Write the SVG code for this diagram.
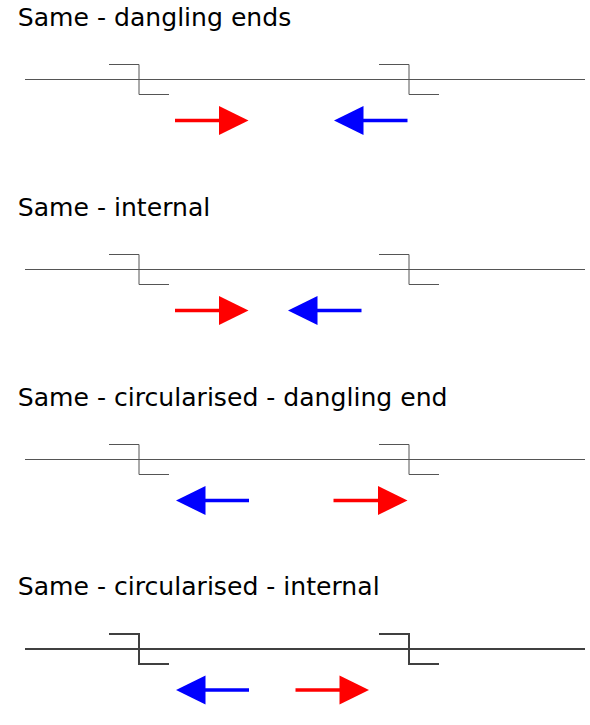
<svg xmlns="http://www.w3.org/2000/svg" width="590" height="725" viewBox="0 0 590 725">
<style>
.title{font-family:"DejaVu Sans",sans-serif;font-size:25.1px;fill:#000}
.seq{fill:none;stroke:#555;stroke-width:1}
.seq4{fill:none;stroke:#404040;stroke-width:2}
.red{stroke:#f00;fill:#f00}
.blue{stroke:#00f;fill:#00f}
.shaft{stroke-width:3.5;fill:none}
.head{stroke:none}
</style>
<rect width="590" height="725" fill="#fff"/>
<g id="section1">
<text class="title" x="17.8" y="25.5">Same - dangling ends</text>
<g id="seq1"><path class="seq" d="M25 79.5H585M109 64.5H139V94.5H169M379 64.5H409V94.5H439"/></g>
<g id="arrows1">
<g class="red"><path class="shaft" d="M175 120.5H221"/><polygon class="head" points="219,106 248.5,120.5 219,135"/></g>
<g class="blue"><path class="shaft" d="M361 120.5H407.5"/><polygon class="head" points="363.5,106 334,120.5 363.5,135"/></g>
</g>
</g>
<g id="section2">
<text class="title" x="17.8" y="215.5">Same - internal</text>
<g id="seq2"><path class="seq" d="M25 269.5H585M109 254.5H139V284.5H169M379 254.5H409V284.5H439"/></g>
<g id="arrows2">
<g class="red"><path class="shaft" d="M175 310.5H221"/><polygon class="head" points="219,296 248.5,310.5 219,325"/></g>
<g class="blue"><path class="shaft" d="M315 310.5H361.5"/><polygon class="head" points="317.5,296 288,310.5 317.5,325"/></g>
</g>
</g>
<g id="section3">
<text class="title" x="17.8" y="405.5">Same - circularised - dangling end</text>
<g id="seq3"><path class="seq" d="M25 459.5H585M109 444.5H139V474.5H169M379 444.5H409V474.5H439"/></g>
<g id="arrows3">
<g class="blue"><path class="shaft" d="M203 500.5H249"/><polygon class="head" points="205.5,486 176,500.5 205.5,515"/></g>
<g class="red"><path class="shaft" d="M333.5 500.5H380"/><polygon class="head" points="378,486 407.5,500.5 378,515"/></g>
</g>
</g>
<g id="section4">
<text class="title" x="17.8" y="595">Same - circularised - internal</text>
<g id="seq4"><path class="seq4" d="M25 649H585M109 634H139V664H169M379 634H409V664H439"/></g>
<g id="arrows4">
<g class="blue"><path class="shaft" d="M203 690H249"/><polygon class="head" points="205.5,675.5 176,690 205.5,704.5"/></g>
<g class="red"><path class="shaft" d="M295.5 690H341"/><polygon class="head" points="339.5,675.5 369,690 339.5,704.5"/></g>
</g>
</g>
</svg>
